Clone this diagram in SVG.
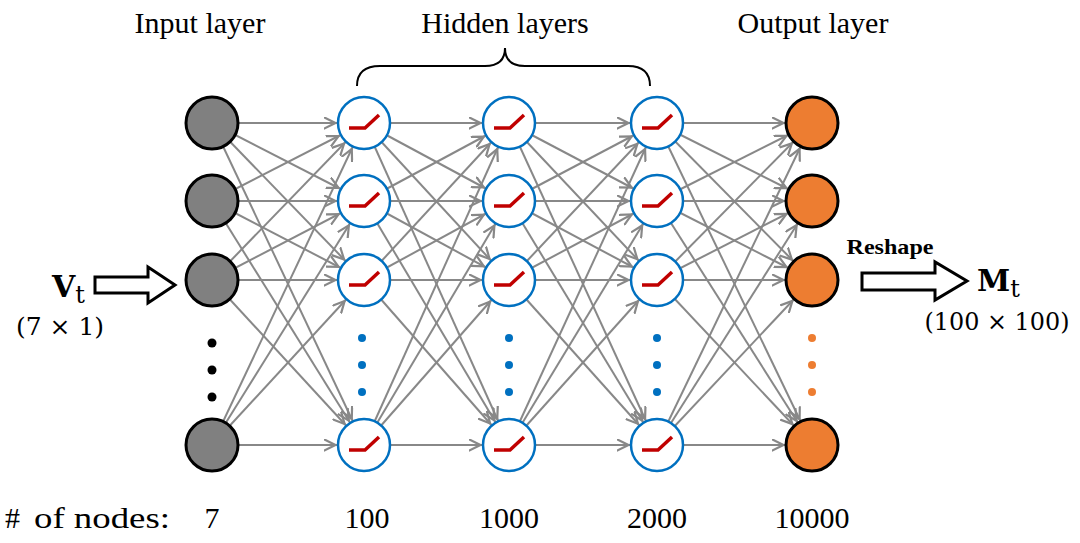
<svg xmlns="http://www.w3.org/2000/svg" width="1080" height="543" viewBox="0 0 1080 543">
<style>
.t{font-family:"Liberation Serif",serif;font-size:30px;fill:#000}
.m{font-family:"DejaVu Serif","Liberation Serif",serif;font-size:24px;fill:#000}
#connectors line{stroke:#888;stroke-width:2;marker-end:url(#a)}
.in{fill:#808080;stroke:#000;stroke-width:3}
.hd{fill:#fff;stroke:#0070c0;stroke-width:2.5}
.out{fill:#ed7d31;stroke:#000;stroke-width:3}
.r{fill:none;stroke:#c00000;stroke-width:3.5}
</style>
<defs>
<marker id="a" viewBox="0 0 10 10" refX="31" refY="5" markerWidth="13" markerHeight="13" orient="auto" markerUnits="userSpaceOnUse"><path d="M0,0.5 L9,5 L0,9.5" fill="none" stroke="#888" stroke-width="1.7"/></marker>
<g id="relu"><path class="r" d="M-15,5 H1 L15,-8"/></g>
</defs>
<rect width="1080" height="543" fill="#fff"/>
<text class="t" x="200" y="33" text-anchor="middle">Input layer</text>
<text class="t" x="505" y="33" text-anchor="middle">Hidden layers</text>
<text class="t" x="813" y="33" text-anchor="middle">Output layer</text>
<path d="M357,86 Q357,66 380,66 L485,66 Q505,66 505,48 Q505,66 525,66 L628,66 Q650,66 650,86" fill="none" stroke="#000" stroke-width="2"/>
<g id="connectors">
<line x1="212" y1="123" x2="364" y2="123"/><line x1="212" y1="123" x2="364" y2="201"/><line x1="212" y1="123" x2="364" y2="280"/><line x1="212" y1="123" x2="364" y2="445"/>
<line x1="212" y1="201" x2="364" y2="123"/><line x1="212" y1="201" x2="364" y2="201"/><line x1="212" y1="201" x2="364" y2="280"/><line x1="212" y1="201" x2="364" y2="445"/>
<line x1="212" y1="280" x2="364" y2="123"/><line x1="212" y1="280" x2="364" y2="201"/><line x1="212" y1="280" x2="364" y2="280"/><line x1="212" y1="280" x2="364" y2="445"/>
<line x1="212" y1="445" x2="364" y2="123"/><line x1="212" y1="445" x2="364" y2="201"/><line x1="212" y1="445" x2="364" y2="280"/><line x1="212" y1="445" x2="364" y2="445"/>
<line x1="364" y1="123" x2="509" y2="123"/><line x1="364" y1="123" x2="509" y2="201"/><line x1="364" y1="123" x2="509" y2="280"/><line x1="364" y1="123" x2="509" y2="445"/>
<line x1="364" y1="201" x2="509" y2="123"/><line x1="364" y1="201" x2="509" y2="201"/><line x1="364" y1="201" x2="509" y2="280"/><line x1="364" y1="201" x2="509" y2="445"/>
<line x1="364" y1="280" x2="509" y2="123"/><line x1="364" y1="280" x2="509" y2="201"/><line x1="364" y1="280" x2="509" y2="280"/><line x1="364" y1="280" x2="509" y2="445"/>
<line x1="364" y1="445" x2="509" y2="123"/><line x1="364" y1="445" x2="509" y2="201"/><line x1="364" y1="445" x2="509" y2="280"/><line x1="364" y1="445" x2="509" y2="445"/>
<line x1="509" y1="123" x2="657" y2="123"/><line x1="509" y1="123" x2="657" y2="201"/><line x1="509" y1="123" x2="657" y2="280"/><line x1="509" y1="123" x2="657" y2="445"/>
<line x1="509" y1="201" x2="657" y2="123"/><line x1="509" y1="201" x2="657" y2="201"/><line x1="509" y1="201" x2="657" y2="280"/><line x1="509" y1="201" x2="657" y2="445"/>
<line x1="509" y1="280" x2="657" y2="123"/><line x1="509" y1="280" x2="657" y2="201"/><line x1="509" y1="280" x2="657" y2="280"/><line x1="509" y1="280" x2="657" y2="445"/>
<line x1="509" y1="445" x2="657" y2="123"/><line x1="509" y1="445" x2="657" y2="201"/><line x1="509" y1="445" x2="657" y2="280"/><line x1="509" y1="445" x2="657" y2="445"/>
<line x1="657" y1="123" x2="812" y2="123"/><line x1="657" y1="123" x2="812" y2="201"/><line x1="657" y1="123" x2="812" y2="280"/><line x1="657" y1="123" x2="812" y2="445"/>
<line x1="657" y1="201" x2="812" y2="123"/><line x1="657" y1="201" x2="812" y2="201"/><line x1="657" y1="201" x2="812" y2="280"/><line x1="657" y1="201" x2="812" y2="445"/>
<line x1="657" y1="280" x2="812" y2="123"/><line x1="657" y1="280" x2="812" y2="201"/><line x1="657" y1="280" x2="812" y2="280"/><line x1="657" y1="280" x2="812" y2="445"/>
<line x1="657" y1="445" x2="812" y2="123"/><line x1="657" y1="445" x2="812" y2="201"/><line x1="657" y1="445" x2="812" y2="280"/><line x1="657" y1="445" x2="812" y2="445"/>
</g>
<g id="nodes">
<g id="in1"><circle class="in" cx="212" cy="123" r="26"/></g>
<g id="in2"><circle class="in" cx="212" cy="201" r="26"/></g>
<g id="in3"><circle class="in" cx="212" cy="280" r="26"/></g>
<g id="in4"><circle class="in" cx="212" cy="445" r="26"/></g>
<g id="h1_1"><circle class="hd" cx="364" cy="123" r="26"/><use href="#relu" x="364" y="123"/></g>
<g id="h1_2"><circle class="hd" cx="364" cy="201" r="26"/><use href="#relu" x="364" y="201"/></g>
<g id="h1_3"><circle class="hd" cx="364" cy="280" r="26"/><use href="#relu" x="364" y="280"/></g>
<g id="h1_4"><circle class="hd" cx="364" cy="445" r="26"/><use href="#relu" x="364" y="445"/></g>
<g id="h2_1"><circle class="hd" cx="509" cy="123" r="26"/><use href="#relu" x="509" y="123"/></g>
<g id="h2_2"><circle class="hd" cx="509" cy="201" r="26"/><use href="#relu" x="509" y="201"/></g>
<g id="h2_3"><circle class="hd" cx="509" cy="280" r="26"/><use href="#relu" x="509" y="280"/></g>
<g id="h2_4"><circle class="hd" cx="509" cy="445" r="26"/><use href="#relu" x="509" y="445"/></g>
<g id="h3_1"><circle class="hd" cx="657" cy="123" r="26"/><use href="#relu" x="657" y="123"/></g>
<g id="h3_2"><circle class="hd" cx="657" cy="201" r="26"/><use href="#relu" x="657" y="201"/></g>
<g id="h3_3"><circle class="hd" cx="657" cy="280" r="26"/><use href="#relu" x="657" y="280"/></g>
<g id="h3_4"><circle class="hd" cx="657" cy="445" r="26"/><use href="#relu" x="657" y="445"/></g>
<g id="o1"><circle class="out" cx="812" cy="123" r="26"/></g>
<g id="o2"><circle class="out" cx="812" cy="201" r="26"/></g>
<g id="o3"><circle class="out" cx="812" cy="280" r="26"/></g>
<g id="o4"><circle class="out" cx="812" cy="445" r="26"/></g>
</g>
<g fill="#000"><circle cx="212" cy="343" r="4.5"/><circle cx="212" cy="370" r="4.5"/><circle cx="212" cy="397" r="4.5"/></g>
<g fill="#0070c0"><circle cx="362" cy="338" r="4"/><circle cx="362" cy="365" r="4"/><circle cx="362" cy="392" r="4"/><circle cx="509" cy="338" r="4"/><circle cx="509" cy="365" r="4"/><circle cx="509" cy="392" r="4"/><circle cx="657" cy="338" r="4"/><circle cx="657" cy="365" r="4"/><circle cx="657" cy="392" r="4"/></g>
<g fill="#ed7d31"><circle cx="812" cy="338" r="4"/><circle cx="812" cy="365" r="4"/><circle cx="812" cy="392" r="4"/></g>
<path d="M95,277 H148 V267 L175,285 L148,303 V293 H95 Z" fill="#fff" stroke="#000" stroke-width="3"/>
<path d="M862,273 H935 V262 L967,281 L935,300 V290 H862 Z" fill="#fff" stroke="#000" stroke-width="3"/>
<text x="52" y="297" style="font-family:'DejaVu Serif','Liberation Serif',serif;font-size:30px;font-weight:bold">V<tspan style="font-weight:normal;font-size:24px" dy="6">t</tspan></text>
<text class="m" x="60" y="335" text-anchor="middle" style="font-size:25px">(7 × 1)</text>
<text x="890" y="254" text-anchor="middle" textLength="87" lengthAdjust="spacingAndGlyphs" style="font-family:'Liberation Serif',serif;font-size:22px;font-weight:bold">Reshape</text>
<text x="977" y="291" style="font-family:'DejaVu Serif','Liberation Serif',serif;font-size:30px;font-weight:bold">M<tspan style="font-weight:normal;font-size:24px" dy="6">t</tspan></text>
<text class="m" x="997" y="330" text-anchor="middle" textLength="145" lengthAdjust="spacingAndGlyphs">(100 × 100)</text>
<text class="t" x="5" y="528">#</text>
<text class="t" x="34" y="528" textLength="136" lengthAdjust="spacingAndGlyphs">of nodes:</text>
<text class="t" x="212" y="528" text-anchor="middle">7</text>
<text class="t" x="367" y="528" text-anchor="middle">100</text>
<text class="t" x="509" y="528" text-anchor="middle">1000</text>
<text class="t" x="657" y="528" text-anchor="middle">2000</text>
<text class="t" x="812" y="528" text-anchor="middle">10000</text>
</svg>
